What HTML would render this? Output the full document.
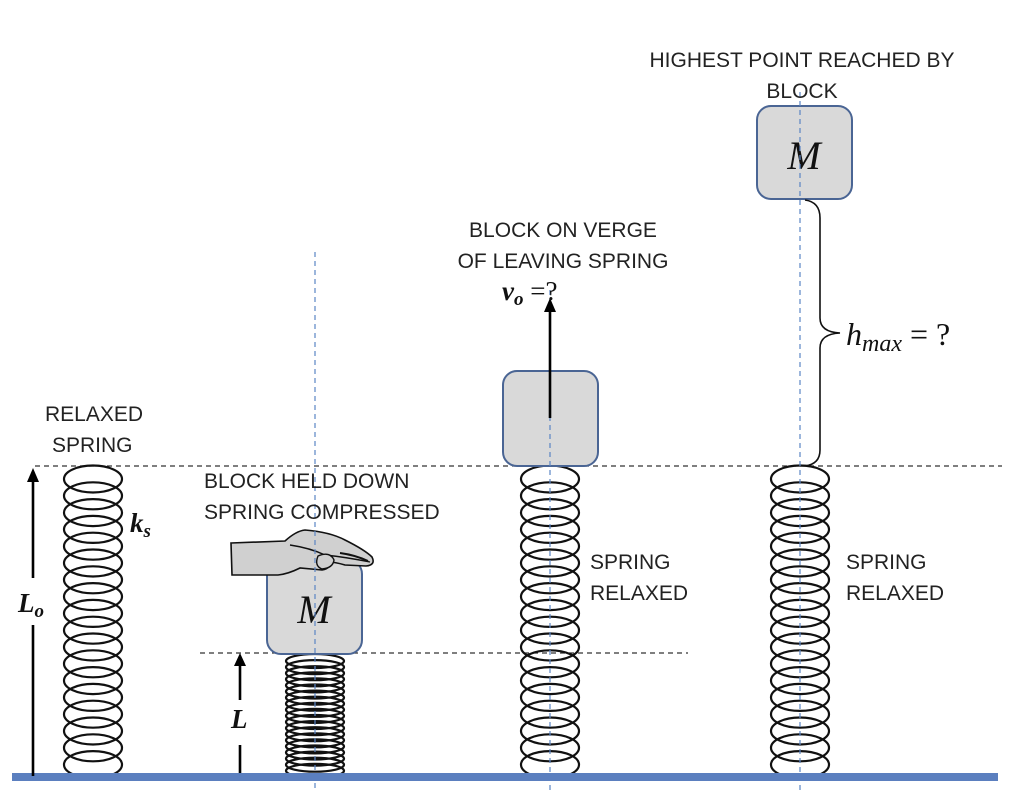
<!DOCTYPE html>
<html><head><meta charset="utf-8"><style>
html,body{margin:0;padding:0;background:#fff;}
svg{display:block;}
.t{font-family:"Liberation Sans",sans-serif;font-size:21px;fill:#222;}
.m{font-family:"Liberation Serif",serif;font-style:italic;}
</style></head><body>
<svg width="1028" height="802" viewBox="0 0 1028 802" xmlns="http://www.w3.org/2000/svg">
<defs>
<g id="sp" fill="none" stroke="#111" stroke-width="2.2">
<ellipse cx="0" cy="479" rx="29" ry="13.5"/><ellipse cx="0" cy="495.8" rx="29" ry="13.5"/><ellipse cx="0" cy="512.6" rx="29" ry="13.5"/><ellipse cx="0" cy="529.4" rx="29" ry="13.5"/><ellipse cx="0" cy="546.2" rx="29" ry="13.5"/><ellipse cx="0" cy="563" rx="29" ry="13.5"/><ellipse cx="0" cy="579.8" rx="29" ry="13.5"/><ellipse cx="0" cy="596.6" rx="29" ry="13.5"/><ellipse cx="0" cy="613.4" rx="29" ry="13.5"/><ellipse cx="0" cy="630.2" rx="29" ry="13.5"/><ellipse cx="0" cy="647" rx="29" ry="13.5"/><ellipse cx="0" cy="663.8" rx="29" ry="13.5"/><ellipse cx="0" cy="680.6" rx="29" ry="13.5"/><ellipse cx="0" cy="697.4" rx="29" ry="13.5"/><ellipse cx="0" cy="714.2" rx="29" ry="13.5"/><ellipse cx="0" cy="731" rx="29" ry="13.5"/><ellipse cx="0" cy="747.8" rx="29" ry="13.5"/><ellipse cx="0" cy="764.6" rx="29" ry="13.5"/>
</g>
</defs>

<line x1="35" y1="466" x2="1002" y2="466" stroke="#333" stroke-width="1.2" stroke-dasharray="5,4"/>
<line x1="200" y1="653" x2="688" y2="653" stroke="#333" stroke-width="1.2" stroke-dasharray="5,4"/>

<use href="#sp" x="93"/>
<use href="#sp" x="550"/>
<use href="#sp" x="800"/>
<g fill="none" stroke="#111" stroke-width="2.2">
<ellipse cx="315" cy="661" rx="29" ry="7"/><ellipse cx="315" cy="667.1" rx="29" ry="7"/><ellipse cx="315" cy="673.2" rx="29" ry="7"/><ellipse cx="315" cy="679.3" rx="29" ry="7"/><ellipse cx="315" cy="685.4" rx="29" ry="7"/><ellipse cx="315" cy="691.5" rx="29" ry="7"/><ellipse cx="315" cy="697.6" rx="29" ry="7"/><ellipse cx="315" cy="703.7" rx="29" ry="7"/><ellipse cx="315" cy="709.8" rx="29" ry="7"/><ellipse cx="315" cy="715.9" rx="29" ry="7"/><ellipse cx="315" cy="722" rx="29" ry="7"/><ellipse cx="315" cy="728.1" rx="29" ry="7"/><ellipse cx="315" cy="734.2" rx="29" ry="7"/><ellipse cx="315" cy="740.3" rx="29" ry="7"/><ellipse cx="315" cy="746.4" rx="29" ry="7"/><ellipse cx="315" cy="752.5" rx="29" ry="7"/><ellipse cx="315" cy="758.6" rx="29" ry="7"/><ellipse cx="315" cy="764.7" rx="29" ry="7"/><ellipse cx="315" cy="770.8" rx="29" ry="7"/>
</g>

<g fill="#d9d9d9" stroke="#4a6594" stroke-width="2">
<rect x="267" y="560" width="95" height="94" rx="14"/>
<rect x="503" y="371" width="95" height="95" rx="14"/>
<rect x="757" y="106" width="95" height="93" rx="14"/>
</g>
<text class="m" x="314" y="623" font-size="40" text-anchor="middle" fill="#111">M</text>
<text class="m" x="804" y="169" font-size="40" text-anchor="middle" fill="#111">M</text>

<path d="M231,543 L285,541 Q296,531 305,530 Q330,532 345,540 Q365,550 372,557 Q376,565 366,566 L345,565 Q335,562 328,562 Q332,568 322,570 L300,568 Q288,574 278,575 L232,575 Z" fill="#d0d0d0" stroke="#111" stroke-width="1.6"/>
<path d="M290,545 Q310,548 325,555 Q345,557 370,562" fill="none" stroke="#111" stroke-width="1.4"/>
<path d="M318,556 Q330,551 334,560 Q333,568 322,569 Q314,566 318,556 Z" fill="#d0d0d0" stroke="#111" stroke-width="1.4"/>
<path d="M340,553 Q355,555 368,561" fill="none" stroke="#111" stroke-width="2"/>

<g stroke="#5b85c4" stroke-width="1.2" stroke-dasharray="5,4">
<line x1="315" y1="252" x2="315" y2="792"/>
<line x1="550" y1="290" x2="550" y2="792"/>
<line x1="800" y1="92" x2="800" y2="792"/>
</g>

<rect x="12" y="773" width="986" height="8" fill="#5b7fbf"/>

<g stroke="#000" stroke-width="2.6" fill="none">
<line x1="33" y1="776" x2="33" y2="625"/>
<line x1="33" y1="578" x2="33" y2="478"/>
<line x1="240" y1="773" x2="240" y2="745"/>
<line x1="240" y1="700" x2="240" y2="664"/>
<line x1="550" y1="418" x2="550" y2="310"/>
</g>
<g fill="#000">
<polygon points="33,468 27,482 39,482"/>
<polygon points="240,653 234,666 246,666"/>
<polygon points="550,298 544,312 556,312"/>
</g>

<path d="M805,200 Q820,202 820,218 L820,318 Q820,332 840,333 Q820,334 820,348 L820,450 Q820,464 805,466" fill="none" stroke="#111" stroke-width="1.6"/>

<text class="t" x="802" y="67" text-anchor="middle">HIGHEST POINT REACHED BY</text>
<text class="t" x="802" y="98" text-anchor="middle">BLOCK</text>
<text class="t" x="563" y="237" text-anchor="middle">BLOCK ON VERGE</text>
<text class="t" x="563" y="268" text-anchor="middle">OF LEAVING SPRING</text>
<text class="t" x="45" y="421">RELAXED</text>
<text class="t" x="52" y="452">SPRING</text>
<text class="t" x="204" y="488">BLOCK HELD DOWN</text>
<text class="t" x="204" y="519">SPRING COMPRESSED</text>
<text class="t" x="590" y="569">SPRING</text>
<text class="t" x="590" y="600">RELAXED</text>
<text class="t" x="846" y="569">SPRING</text>
<text class="t" x="846" y="600">RELAXED</text>

<text class="m" x="130" y="532" font-size="27" font-weight="bold" fill="#111">k<tspan font-size="19" dy="5">s</tspan></text>
<text class="m" x="18" y="612" font-size="27" font-weight="bold" fill="#111">L<tspan font-size="19" dy="5">o</tspan></text>
<text class="m" x="231" y="728" font-size="27" font-weight="bold" fill="#111">L</text>
<text class="m" x="502" y="300" font-size="27" font-weight="bold" fill="#111">v<tspan font-size="19" dy="5">o</tspan><tspan dy="-5" font-weight="normal" font-style="normal"> =?</tspan></text>
<text class="m" x="846" y="345" font-size="32" fill="#111">h<tspan font-size="24" dy="6">max</tspan><tspan dy="-6" font-style="normal"> = ?</tspan></text>
</svg>
</body></html>
